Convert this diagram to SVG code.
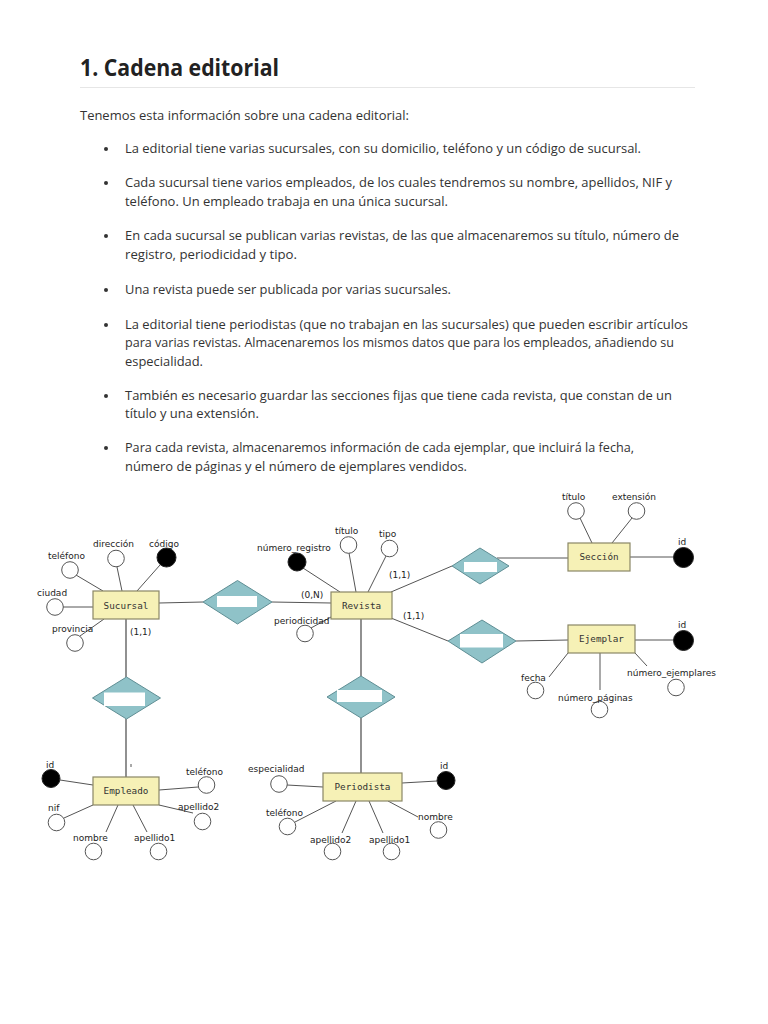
<svg xmlns="http://www.w3.org/2000/svg" width="768" height="1024" viewBox="0 0 768 1024">
<style>
.title{font-family:"Open Sans","Liberation Sans",sans-serif;font-weight:700;font-size:23px;fill:#222}
.p{font-family:"Open Sans","Liberation Sans",sans-serif;font-size:13px;fill:#333}
.ent{fill:#f6f1b6;stroke:#8a8766;stroke-width:1.2}
.entt{font-family:"DejaVu Sans Mono","Liberation Mono",monospace;font-size:9.3px;fill:#333;text-anchor:middle}
.rel{fill:#8fc2c8;stroke:#5f8e94;stroke-width:1}
.relbox{fill:#fff}
.att{fill:#fff;stroke:#555;stroke-width:1}
.key{fill:#000;stroke:#222;stroke-width:1}
.lbl{font-family:"DejaVu Sans","Liberation Sans",sans-serif;font-size:9px;fill:#222}
.card{font-family:"DejaVu Sans","Liberation Sans",sans-serif;font-size:9px;fill:#222}
.ln{stroke:#555;stroke-width:1;fill:none}
.ln2{stroke:#555;stroke-width:1.3;fill:none}
</style>
<rect width="768" height="1024" fill="#fff"/>
<g id="header">
<text class="title" x="80" y="76" textLength="199" lengthAdjust="spacingAndGlyphs">1. Cadena editorial</text>
<line x1="80" y1="87.5" x2="695" y2="87.5" stroke="#e6e6e6" stroke-width="1"/>
<text class="p" x="80" y="120" textLength="329" lengthAdjust="spacingAndGlyphs">Tenemos esta información sobre una cadena editorial:</text>
<g fill="#333">
<circle cx="106" cy="149" r="2"/><circle cx="106" cy="183" r="2"/><circle cx="106" cy="236" r="2"/>
<circle cx="106" cy="290" r="2"/><circle cx="106" cy="325" r="2"/><circle cx="106" cy="396" r="2"/><circle cx="106" cy="448" r="2"/>
</g>
<text class="p" x="125" y="153" textLength="516" lengthAdjust="spacingAndGlyphs">La editorial tiene varias sucursales, con su domicilio, teléfono y un código de sucursal.</text>
<text class="p" x="125" y="187" textLength="547" lengthAdjust="spacingAndGlyphs">Cada sucursal tiene varios empleados, de los cuales tendremos su nombre, apellidos, NIF y</text>
<text class="p" x="125" y="206" textLength="323" lengthAdjust="spacingAndGlyphs">teléfono. Un empleado trabaja en una única sucursal.</text>
<text class="p" x="125" y="240" textLength="554" lengthAdjust="spacingAndGlyphs">En cada sucursal se publican varias revistas, de las que almacenaremos su título, número de</text>
<text class="p" x="125" y="259" textLength="172" lengthAdjust="spacingAndGlyphs">registro, periodicidad y tipo.</text>
<text class="p" x="125" y="294" textLength="326" lengthAdjust="spacingAndGlyphs">Una revista puede ser publicada por varias sucursales.</text>
<text class="p" x="125" y="329" textLength="563" lengthAdjust="spacingAndGlyphs">La editorial tiene periodistas (que no trabajan en las sucursales) que pueden escribir artículos</text>
<text class="p" x="125" y="347" textLength="549" lengthAdjust="spacingAndGlyphs">para varias revistas. Almacenaremos los mismos datos que para los empleados, añadiendo su</text>
<text class="p" x="125" y="366" textLength="78" lengthAdjust="spacingAndGlyphs">especialidad.</text>
<text class="p" x="125" y="400" textLength="547" lengthAdjust="spacingAndGlyphs">También es necesario guardar las secciones fijas que tiene cada revista, que constan de un</text>
<text class="p" x="125" y="418" textLength="134" lengthAdjust="spacingAndGlyphs">título y una extensión.</text>
<text class="p" x="125" y="452" textLength="509" lengthAdjust="spacingAndGlyphs">Para cada revista, almacenaremos información de cada ejemplar, que incluirá la fecha,</text>
<text class="p" x="125" y="471" textLength="342" lengthAdjust="spacingAndGlyphs">número de páginas y el número de ejemplares vendidos.</text>
</g>
<g id="connectors">
<line class="ln" x1="159" y1="603" x2="203" y2="602"/>
<line class="ln" x1="272" y1="602" x2="331" y2="603"/>
<line class="ln" x1="391" y1="592" x2="452" y2="566"/>
<line class="ln" x1="497" y1="558" x2="568" y2="558"/>
<line class="ln" x1="391" y1="618" x2="448" y2="641"/>
<line class="ln" x1="516" y1="641" x2="568" y2="640"/>
<line class="ln2" x1="126" y1="619" x2="126" y2="677"/>
<line class="ln2" x1="126" y1="719" x2="126" y2="777"/>
<line class="ln2" x1="361" y1="619" x2="361" y2="676"/>
<line class="ln2" x1="361" y1="718" x2="361" y2="773"/>
<line class="ln" x1="131" y1="764" x2="131" y2="767"/>
<!-- Sucursal attributes -->
<line class="ln" x1="76" y1="575" x2="103" y2="591"/>
<line class="ln" x1="117" y1="567" x2="122" y2="591"/>
<line class="ln" x1="160" y1="565" x2="137" y2="591"/>
<line class="ln" x1="63" y1="607" x2="93" y2="607"/>
<line class="ln" x1="80" y1="636" x2="104" y2="619"/>
<!-- Revista attributes -->
<line class="ln" x1="303" y1="568" x2="340" y2="592"/>
<line class="ln" x1="349" y1="553" x2="356" y2="592"/>
<line class="ln" x1="386" y1="556" x2="368" y2="592"/>
<line class="ln" x1="311" y1="628" x2="331" y2="617"/>
<!-- Seccion attributes -->
<line class="ln" x1="580" y1="518" x2="592" y2="543"/>
<line class="ln" x1="632" y1="518" x2="612" y2="543"/>
<line class="ln" x1="630" y1="557" x2="674" y2="557"/>
<!-- Ejemplar attributes -->
<line class="ln" x1="635" y1="640" x2="674" y2="640"/>
<line class="ln" x1="549" y1="677" x2="568" y2="653"/>
<line class="ln" x1="600" y1="690" x2="600" y2="653"/>
<line class="ln" x1="647" y1="666" x2="635" y2="653"/>
<!-- Empleado attributes -->
<line class="ln" x1="60" y1="780" x2="93" y2="785"/>
<line class="ln" x1="159" y1="790" x2="198" y2="787"/>
<line class="ln" x1="64" y1="818" x2="93" y2="805"/>
<line class="ln" x1="106" y1="832" x2="118" y2="805"/>
<line class="ln" x1="147" y1="832" x2="133" y2="805"/>
<line class="ln" x1="193" y1="813" x2="159" y2="805"/>
<!-- Periodista attributes -->
<line class="ln" x1="287" y1="785" x2="323" y2="787"/>
<line class="ln" x1="402" y1="783" x2="437" y2="781"/>
<line class="ln" x1="295" y1="822" x2="336" y2="801"/>
<line class="ln" x1="342" y1="833" x2="356" y2="801"/>
<line class="ln" x1="383" y1="833" x2="369" y2="801"/>
<line class="ln" x1="418" y1="817" x2="388" y2="801"/>
</g>
<g id="cardinalities">
<text class="card" x="130" y="635">(1,1)</text>
<text class="card" x="301" y="598">(0,N)</text>
<text class="card" x="389" y="578">(1,1)</text>
<text class="card" x="403" y="619">(1,1)</text>
</g>
<g id="rel-sucursal-revista">
<polygon class="rel" points="203,602 237.5,580.5 272,602 237.5,624"/>
<rect class="relbox" x="217" y="596" width="40" height="11"/>
</g>
<g id="rel-revista-seccion">
<polygon class="rel" points="452,566 480,548 509,566 480,584"/>
<rect class="relbox" x="464" y="562" width="33" height="10"/>
</g>
<g id="rel-revista-ejemplar">
<polygon class="rel" points="448,641 482,620 516,641 482,663"/>
<rect class="relbox" x="460" y="634" width="43" height="13.5"/>
</g>
<g id="rel-sucursal-empleado">
<polygon class="rel" points="92.5,698 126.5,677 160.5,698 126.5,719"/>
<rect class="relbox" x="104" y="692.5" width="41" height="13.5"/>
</g>
<g id="rel-revista-periodista">
<polygon class="rel" points="327,697 361,676 395,697 361,718"/>
<rect class="relbox" x="337" y="690" width="45" height="12"/>
</g>
<g id="sucursal">
<rect class="ent" x="93" y="591" width="66" height="28"/>
<text class="entt" x="126" y="608.5">Sucursal</text>
<circle class="att" cx="70" cy="570" r="8.3"/><text class="lbl" x="48" y="559">teléfono</text>
<circle class="att" cx="116" cy="558.5" r="8.3"/><text class="lbl" x="93" y="547">dirección</text>
<circle class="key" cx="166.5" cy="557.5" r="9.5"/><text class="lbl" x="149" y="547">código</text>
<circle class="att" cx="55" cy="607" r="8.3"/><text class="lbl" x="37" y="596">ciudad</text>
<circle class="att" cx="75" cy="643" r="8.3"/><text class="lbl" x="52" y="632">provincia</text>
</g>
<g id="revista">
<rect class="ent" x="331" y="592" width="61" height="27"/>
<text class="entt" x="361.5" y="608.5">Revista</text>
<circle class="key" cx="297" cy="562" r="9"/><text class="lbl" x="257" y="551">número_registro</text>
<circle class="att" cx="348.5" cy="545" r="8.3"/><text class="lbl" x="335" y="534">título</text>
<circle class="att" cx="389.5" cy="548.5" r="8.3"/><text class="lbl" x="379" y="537">tipo</text>
<circle class="att" cx="305" cy="633.5" r="8.3"/><text class="lbl" x="274" y="624">periodicidad</text>
</g>
<g id="seccion">
<rect class="ent" x="568" y="543" width="62" height="28"/>
<text class="entt" x="599" y="560">Sección</text>
<circle class="att" cx="576" cy="511" r="8.3"/><text class="lbl" x="562" y="500">título</text>
<circle class="att" cx="636.5" cy="511" r="8.3"/><text class="lbl" x="612" y="500">extensión</text>
<circle class="key" cx="683.5" cy="557.5" r="10"/><text class="lbl" x="678" y="545">id</text>
</g>
<g id="ejemplar">
<rect class="ent" x="568" y="625" width="67" height="28"/>
<text class="entt" x="601.5" y="642">Ejemplar</text>
<circle class="key" cx="683.5" cy="640.5" r="10"/><text class="lbl" x="678" y="628">id</text>
<circle class="att" cx="535.5" cy="690.5" r="8.3"/><text class="lbl" x="521" y="681">fecha</text>
<circle class="att" cx="599.5" cy="709.5" r="8.3"/><text class="lbl" x="558" y="701">número_páginas</text>
<circle class="att" cx="676" cy="687.5" r="8.3"/><text class="lbl" x="627" y="676">número_ejemplares</text>
</g>
<g id="empleado">
<rect class="ent" x="93" y="777" width="66" height="28"/>
<text class="entt" x="126" y="794">Empleado</text>
<circle class="key" cx="51" cy="778.5" r="9"/><text class="lbl" x="46" y="768">id</text>
<circle class="att" cx="206.5" cy="785" r="8.3"/><text class="lbl" x="186" y="775">teléfono</text>
<circle class="att" cx="56.5" cy="822.5" r="8.3"/><text class="lbl" x="48" y="811">nif</text>
<circle class="att" cx="93.5" cy="851.5" r="8.3"/><text class="lbl" x="73" y="841">nombre</text>
<circle class="att" cx="158.5" cy="851.5" r="8.3"/><text class="lbl" x="134" y="841">apellido1</text>
<circle class="att" cx="202.5" cy="821.5" r="8.3"/><text class="lbl" x="178" y="810">apellido2</text>
</g>
<g id="periodista">
<rect class="ent" x="323" y="773" width="79" height="28"/>
<text class="entt" x="362.5" y="790">Periodista</text>
<circle class="att" cx="279" cy="784" r="8.3"/><text class="lbl" x="248" y="772">especialidad</text>
<circle class="key" cx="446" cy="780.5" r="9"/><text class="lbl" x="440" y="769">id</text>
<circle class="att" cx="287.5" cy="826.5" r="8.3"/><text class="lbl" x="266" y="816">teléfono</text>
<circle class="att" cx="332.5" cy="851.5" r="8.3"/><text class="lbl" x="310" y="843">apellido2</text>
<circle class="att" cx="391.5" cy="851.5" r="8.3"/><text class="lbl" x="369" y="843">apellido1</text>
<circle class="att" cx="438.5" cy="830" r="8.3"/><text class="lbl" x="418" y="820">nombre</text>
</g>
</svg>
